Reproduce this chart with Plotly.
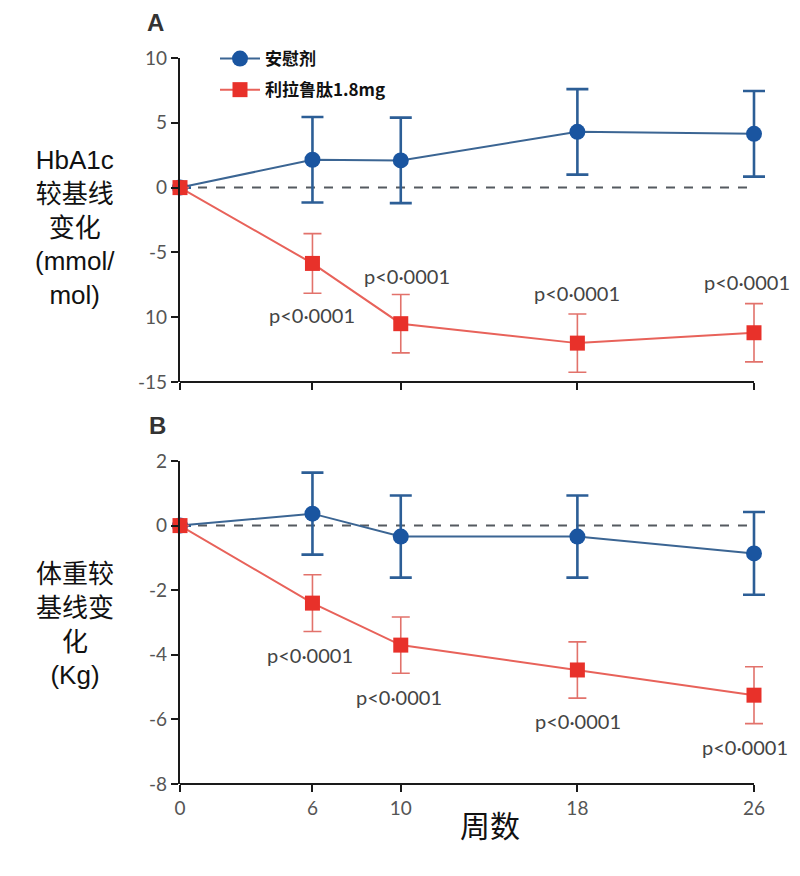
import plotly.graph_objects as go

weeks = [0, 6, 10, 18, 26]

# Panel A: HbA1c change from baseline (mmol/mol)
a_placebo = [0, 2.15, 2.1, 4.3, 4.15]
a_placebo_err = [0, 3.3, 3.3, 3.3, 3.3]
a_lira = [0, -5.85, -10.5, -12.0, -11.2]
a_lira_err = [0, 2.3, 2.25, 2.25, 2.25]

# Panel B: body weight change from baseline (kg)
b_placebo = [0, 0.37, -0.34, -0.34, -0.86]
b_placebo_err = [0, 1.27, 1.27, 1.27, 1.28]
b_lira = [0, -2.4, -3.7, -4.47, -5.25]
b_lira_err = [0, 0.88, 0.87, 0.87, 0.88]

series_names = ["安慰剂", "利拉鲁肽1.8mg"]

a_ticks = [10, 5, 0, -5, -10, -15]
a_ticktext = ["10", "5", "0", "-5", "10", "-15"]
b_ticks = [2, 0, -2, -4, -6, -8]
b_ticktext = ["2", "0", "-2", "-4", "-6", "-8"]

a_pvals = [("p<0·0001", 6, -9.85), ("p<0·0001", 10.3, -6.85), ("p<0·0001", 18, -8.1),
           ("p<0·0001", 25.7, -7.3), ("p=0·012", 18, 10.1), ("p=0·015", 25.7, 10.1)]
b_pvals = [("p<0·0001", 5.9, -4.0), ("p<0·0001", 9.9, -5.32), ("p<0·0001", 18.05, -6.04),
           ("p<0·0001", 25.6, -6.84)]

BLUE_M = "#1a55a0"
BLUE_L = "#3b6593"
BLUE_E = "#2c5e96"
RED_M = "#e8312a"
RED_L = "#e8625a"
RED_E = "#e2726b"
AXC = "#1a1a1a"
TICKFONT = dict(family="Lato, Liberation Sans, sans-serif", size=19, color="#555555")
PFONT = dict(family="Lato, Liberation Sans, sans-serif", size=20, color="#444444")

fig = go.Figure()

def add(x, y, err, xa, ya, name, color_m, color_l, color_e, symbol, size, ew, cw, show):
    fig.add_trace(go.Scatter(
        x=x, y=y, xaxis=xa, yaxis=ya, name=name, mode="lines+markers",
        line=dict(color=color_l, width=2),
        marker=dict(color=color_m, symbol=symbol, size=size),
        error_y=dict(type="data", array=err, visible=True, color=color_e,
                     thickness=ew, width=cw),
        cliponaxis=False, showlegend=show, legendgroup=name))

add(weeks, a_placebo, a_placebo_err, "x", "y", series_names[0], BLUE_M, BLUE_L, BLUE_E,
    "circle", 16, 2.6, 11, True)
add(weeks, a_lira, a_lira_err, "x", "y", series_names[1], RED_M, RED_L, RED_E,
    "square", 15, 1.6, 9, True)
add(weeks, b_placebo, b_placebo_err, "x2", "y2", series_names[0], BLUE_M, BLUE_L, BLUE_E,
    "circle", 16, 2.6, 11, False)
add(weeks, b_lira, b_lira_err, "x2", "y2", series_names[1], RED_M, RED_L, RED_E,
    "square", 15, 1.6, 9, False)

XMAX = 26.6
pxu = (754 - 180) / 26
xdom = [180 / 800, (180 + XMAX * pxu) / 800]
H = 876
ydomA = [1 - 382 / H, 1 - 58 / H]
ydomB = [1 - 784 / H, 1 - 461 / H]

axis_common = dict(linecolor=AXC, linewidth=2.2, ticks="outside", automargin=False,
                   ticklen=7, tickwidth=2.2, tickcolor=AXC, showgrid=False,
                   zeroline=False, tickfont=TICKFONT)

fig.update_layout(
    width=800, height=876,
    margin=dict(l=0, r=0, t=0, b=0),
    paper_bgcolor="white", plot_bgcolor="white",
    xaxis=dict(domain=xdom, range=[0, XMAX], anchor="y", tickvals=weeks, showline=False,
               showticklabels=False, **axis_common),
    yaxis=dict(domain=ydomA, range=[-15, 10], anchor="x", tickvals=a_ticks, showline=True,
               ticktext=a_ticktext, **axis_common),
    xaxis2=dict(domain=xdom, range=[0, XMAX], anchor="y2", tickvals=weeks, showline=False,
                ticktext=[str(w) for w in weeks], **axis_common),
    yaxis2=dict(domain=ydomB, range=[-8, 2], anchor="x2", tickvals=b_ticks, showline=True,
                ticktext=b_ticktext, **axis_common),
    legend=dict(x=215 / 800, y=1 - 41 / H, xanchor="left", yanchor="top",
                font=dict(family="Noto Sans CJK SC, sans-serif", size=17, color="#111111",
                          weight="bold"),
                bgcolor="rgba(0,0,0,0)", tracegroupgap=6, itemwidth=40),
    showlegend=True,
)

# bottom axis lines ending at the last tick, and dashed zero lines
for xr, yr in [("x", "y"), ("x2", "y2")]:
    fig.add_shape(type="line", xref=xr, yref=yr + " domain", x0=0, x1=weeks[-1], y0=0, y1=0,
                  line=dict(color=AXC, width=2.2), layer="above")
    fig.add_shape(type="line", xref=xr, yref=yr, x0=0, x1=weeks[-1], y0=0, y1=0,
                  line=dict(color="#555a60", width=2, dash="dash"), layer="below")

for txt, x, y in a_pvals:
    fig.add_annotation(text=txt, x=x, y=y, xref="x", yref="y", showarrow=False, font=PFONT)
for txt, x, y in b_pvals:
    fig.add_annotation(text=txt, x=x, y=y, xref="x2", yref="y2", showarrow=False, font=PFONT)

LABFONT = dict(family="Liberation Sans, Noto Sans CJK SC, sans-serif", size=26, color="#111111")

def paper_text(text, px, py, font):
    fig.add_annotation(text=text, x=px / 800, y=1 - py / H, xref="paper", yref="paper",
                       xanchor="center", yanchor="middle", showarrow=False, font=font,
                       align="center")

paper_text("HbA1c<br>较基线<br>变化<br>(mmol/<br>mol)", 75, 228, LABFONT)
paper_text("体重较<br>基线变<br>化<br>(Kg)", 75, 624, LABFONT)
paper_text("周数", 490, 824, dict(family="Noto Sans CJK SC, sans-serif", size=30, color="#111111"))
for t, px, py in [("A", 155, 22), ("B", 157, 425)]:
    paper_text("<b>%s</b>" % t, px, py,
               dict(family="Liberation Sans, sans-serif", size=24, color="#333333"))

fig.write_html("out.html")
